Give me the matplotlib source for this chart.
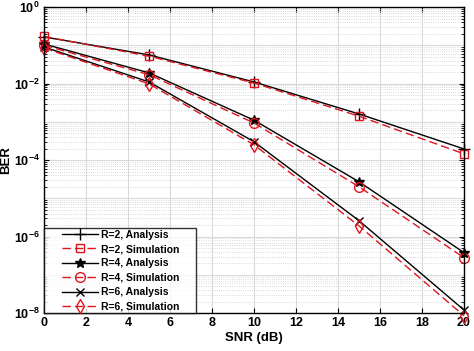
import matplotlib
matplotlib.use("Agg")
import matplotlib.pyplot as plt
from matplotlib.lines import Line2D
from matplotlib.legend_handler import HandlerLine2D
from matplotlib.ticker import LogLocator, NullFormatter

plt.rcParams['font.family'] = ['Liberation Sans', 'DejaVu Sans']

snr = [0, 5, 10, 15, 20]

# BER values
r2_analysis = [0.165, 0.056, 0.011, 1.6e-3, 1.95e-4]
r2_sim = [0.17, 0.052, 0.0103, 1.4e-3, 1.45e-4]
r4_analysis = [0.108, 0.019, 1.1e-3, 2.7e-5, 3.8e-7]
r4_sim = [0.10, 0.017, 9.3e-4, 2.0e-5, 2.8e-7]
r6_analysis = [0.09, 0.011, 3.0e-4, 2.6e-6, 1.2e-8]
r6_sim = [0.085, 0.0098, 2.5e-4, 1.9e-6, 8.5e-9]

labels = ["R=2, Analysis", "R=2, Simulation", "R=4, Analysis",
          "R=4, Simulation", "R=6, Analysis", "R=6, Simulation"]

fig = plt.figure(figsize=(4.74, 3.51), dpi=100)
ax = fig.add_axes([0.093, 0.108, 0.886, 0.872])

red = '#e0141e'
dash = (6, 3)
ax.semilogy(snr, r2_analysis, 'k-', marker='+', ms=8, lw=1, label=labels[0], clip_on=False)
ax.semilogy(snr, r2_sim, '--', dashes=dash, color=red, marker='s', ms=6, mfc='none', lw=1,
            label=labels[1], clip_on=False)
ax.semilogy(snr, r4_analysis, 'k-', marker='*', ms=7, lw=1, label=labels[2], clip_on=False)
ax.semilogy(snr, r4_sim, '--', dashes=dash, color=red, marker='o', ms=7, mfc='none', lw=1,
            label=labels[3], clip_on=False)
ax.semilogy(snr, r6_analysis, 'k-', marker='x', ms=6, lw=1, label=labels[4], clip_on=False)
ax.semilogy(snr, r6_sim, '--', dashes=dash, color=red, marker='d', ms=7, mfc='none', lw=1,
            label=labels[5], clip_on=False)

ax.set_xlim(0, 20)
ax.set_ylim(1e-8, 1)
ax.set_xticks(range(0, 21, 2))
ax.set_yticks([1e-8, 1e-6, 1e-4, 1e-2, 1])
ax.yaxis.set_minor_locator(LogLocator(base=10, subs=range(2, 10), numticks=20))
ax.yaxis.set_minor_formatter(NullFormatter())

ax.grid(True, which='major', color='#d9d9d9', lw=0.8)
ax.grid(True, which='minor', axis='y', color='#cccccc', ls=':', lw=0.6)
# extra log decade lines for odd exponents
for e in [-7, -5, -3, -1]:
    ax.axhline(10.0 ** e, color='#d9d9d9', lw=0.8, zorder=0)

ax.tick_params(which='both', direction='in', top=True, right=True)
ax.tick_params(labelsize=9, pad=3)
for lab in ax.get_xticklabels() + ax.get_yticklabels():
    lab.set_fontweight('bold')

ax.set_xlabel('SNR (dB)', fontsize=9.5, fontweight='bold', labelpad=2)
ax.set_ylabel('BER', fontsize=9.5, fontweight='bold')
ax.yaxis.set_label_coords(-0.076, 0.5)
for s in ax.spines.values():
    s.set_linewidth(1.0)

leg = ax.legend(loc='lower left', bbox_to_anchor=(0, 0, 0.362, 0.27), mode='expand',
                fontsize=7.5, frameon=True, fancybox=False,
                edgecolor='black', borderaxespad=0, handlelength=5,
                labelspacing=0.42, borderpad=0.15, handletextpad=0.3,
                handler_map={Line2D: HandlerLine2D(xpad=1.6)})
leg.get_frame().set_linewidth(1.0)
for t in leg.get_texts():
    t.set_fontweight('bold')

fig.savefig('out.png', dpi=100)
